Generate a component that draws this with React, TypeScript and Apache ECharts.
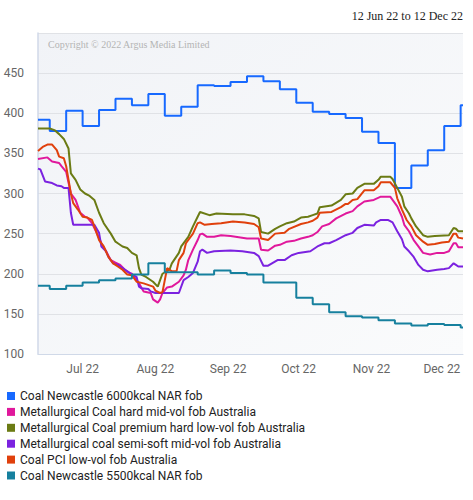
import React, { useEffect, useRef } from "react";
import * as echarts from "echarts";

const seriesNames = [
  "Coal Newcastle 6000kcal NAR fob",
  "Metallurgical Coal hard mid-vol fob Australia",
  "Metallurgical Coal premium hard low-vol fob Australia",
  "Metallurgical coal semi-soft mid-vol fob Australia",
  "Coal PCI low-vol fob Australia",
  "Coal Newcastle 5500kcal NAR fob",
];
const seriesColors = ["#1769ff", "#e0189c", "#6b7b14", "#7b22e0", "#e0400c", "#16809e"];

const weeklyDates = [
  "2022-06-12", "2022-06-17", "2022-06-24", "2022-07-01", "2022-07-08", "2022-07-15", "2022-07-22",
  "2022-07-29", "2022-08-05", "2022-08-12", "2022-08-19", "2022-08-26", "2022-09-02", "2022-09-09",
  "2022-09-16", "2022-09-23", "2022-09-30", "2022-10-07", "2022-10-14", "2022-10-21", "2022-10-28",
  "2022-11-04", "2022-11-11", "2022-11-18", "2022-11-25", "2022-12-02", "2022-12-09", "2022-12-10",
];
const newcastle6000 = [392, 378, 403, 384, 404, 418, 410, 424, 397, 408, 435, 434, 439, 446, 440, 430, 413, 402, 399, 394, 377, 363, 307, 335, 354, 384, 410, 410];
const newcastle5500 = [185, 181, 185, 189, 192, 194, 199, 213, 202, 202, 199, 204, 201, 199, 189, 189, 170, 162, 152, 147, 145.5, 142, 138, 135.5, 137.5, 136, 133, 133];

const hardMidVol: [string, number][] = [
  ["2022-06-12", 343], ["2022-06-16", 345], ["2022-06-18", 340], ["2022-06-21", 338], ["2022-06-22", 334],
  ["2022-06-24", 327], ["2022-06-26", 300], ["2022-06-28", 292], ["2022-06-30", 276], ["2022-07-02", 271],
  ["2022-07-03", 270], ["2022-07-05", 263], ["2022-07-07", 251], ["2022-07-09", 238], ["2022-07-11", 228],
  ["2022-07-13", 217], ["2022-07-15", 214], ["2022-07-17", 211], ["2022-07-19", 205], ["2022-07-21", 201],
  ["2022-07-22", 200], ["2022-07-24", 192], ["2022-07-25", 188], ["2022-07-27", 178], ["2022-07-30", 176],
  ["2022-07-31", 168], ["2022-08-02", 164], ["2022-08-03", 168], ["2022-08-04", 176], ["2022-08-06", 183],
  ["2022-08-08", 184], ["2022-08-11", 190], ["2022-08-13", 198], ["2022-08-14", 205], ["2022-08-15", 217],
  ["2022-08-17", 230], ["2022-08-19", 242], ["2022-08-20", 249], ["2022-08-21", 250], ["2022-08-23", 246],
  ["2022-08-26", 246], ["2022-08-29", 248], ["2022-09-02", 247], ["2022-09-09", 244], ["2022-09-14", 244],
  ["2022-09-15", 230], ["2022-09-18", 229], ["2022-09-21", 235], ["2022-09-23", 236], ["2022-09-26", 240],
  ["2022-09-29", 241], ["2022-10-02", 244], ["2022-10-05", 246], ["2022-10-07", 248], ["2022-10-09", 252],
  ["2022-10-11", 259], ["2022-10-14", 262], ["2022-10-17", 269], ["2022-10-21", 275], ["2022-10-24", 278],
  ["2022-10-26", 284], ["2022-10-29", 290], ["2022-11-02", 292], ["2022-11-05", 296], ["2022-11-09", 296],
  ["2022-11-10", 292], ["2022-11-12", 284], ["2022-11-14", 271], ["2022-11-15", 261], ["2022-11-17", 253],
  ["2022-11-19", 242], ["2022-11-21", 234], ["2022-11-23", 226], ["2022-11-26", 224], ["2022-11-29", 226],
  ["2022-12-02", 226], ["2022-12-04", 228], ["2022-12-06", 238], ["2022-12-07", 238], ["2022-12-08", 233],
  ["2022-12-10", 233],
];

const premiumHardLowVol: [string, number][] = [
  ["2022-06-12", 381], ["2022-06-17", 381], ["2022-06-19", 379], ["2022-06-21", 374], ["2022-06-23", 368],
  ["2022-06-25", 356], ["2022-06-26", 325], ["2022-06-28", 317], ["2022-06-30", 305], ["2022-07-02", 300],
  ["2022-07-04", 297], ["2022-07-06", 292], ["2022-07-08", 276], ["2022-07-10", 263], ["2022-07-13", 250],
  ["2022-07-15", 240], ["2022-07-16", 238], ["2022-07-18", 234], ["2022-07-20", 232], ["2022-07-22", 226],
  ["2022-07-24", 223], ["2022-07-25", 207], ["2022-07-26", 199], ["2022-07-28", 196], ["2022-07-31", 190],
  ["2022-08-02", 184], ["2022-08-03", 192], ["2022-08-04", 200], ["2022-08-07", 205], ["2022-08-08", 213],
  ["2022-08-11", 226], ["2022-08-12", 234], ["2022-08-15", 246], ["2022-08-17", 259], ["2022-08-19", 271],
  ["2022-08-20", 277], ["2022-08-24", 273], ["2022-08-27", 275], ["2022-09-03", 274], ["2022-09-08", 274],
  ["2022-09-12", 272], ["2022-09-14", 269], ["2022-09-15", 252], ["2022-09-18", 250], ["2022-09-21", 256],
  ["2022-09-23", 259], ["2022-09-26", 263], ["2022-09-29", 265], ["2022-10-02", 270], ["2022-10-05", 271],
  ["2022-10-07", 273], ["2022-10-09", 275], ["2022-10-10", 283], ["2022-10-15", 285], ["2022-10-19", 292],
  ["2022-10-21", 299], ["2022-10-24", 300], ["2022-10-26", 307], ["2022-10-29", 312], ["2022-11-02", 312],
  ["2022-11-04", 317], ["2022-11-05", 321], ["2022-11-09", 321], ["2022-11-10", 318], ["2022-11-12", 307],
  ["2022-11-14", 296], ["2022-11-15", 284], ["2022-11-17", 275], ["2022-11-18", 269], ["2022-11-20", 259],
  ["2022-11-23", 248], ["2022-11-25", 246], ["2022-11-28", 247], ["2022-12-04", 248], ["2022-12-06", 257],
  ["2022-12-07", 256], ["2022-12-08", 253], ["2022-12-10", 253],
];

const semiSoftMidVol: [string, number][] = [
  ["2022-06-12", 331], ["2022-06-13", 330], ["2022-06-15", 315], ["2022-06-18", 313], ["2022-06-20", 310],
  ["2022-06-22", 309], ["2022-06-23", 307], ["2022-06-25", 307], ["2022-06-26", 276], ["2022-06-27", 261],
  ["2022-07-06", 261], ["2022-07-08", 251], ["2022-07-09", 234], ["2022-07-11", 228], ["2022-07-12", 221],
  ["2022-07-14", 213], ["2022-07-16", 211], ["2022-07-18", 207], ["2022-07-20", 203], ["2022-07-22", 199],
  ["2022-07-24", 196], ["2022-07-25", 184], ["2022-07-26", 182], ["2022-07-29", 181], ["2022-07-30", 178],
  ["2022-08-01", 176], ["2022-08-11", 176], ["2022-08-13", 192], ["2022-08-15", 196], ["2022-08-17", 201],
  ["2022-08-19", 215], ["2022-08-20", 228], ["2022-08-21", 230], ["2022-08-23", 226], ["2022-08-26", 228],
  ["2022-09-02", 229], ["2022-09-07", 228], ["2022-09-12", 226], ["2022-09-14", 222], ["2022-09-16", 210],
  ["2022-09-18", 210], ["2022-09-22", 217], ["2022-09-25", 217], ["2022-09-28", 223], ["2022-10-01", 226],
  ["2022-10-06", 228], ["2022-10-09", 234], ["2022-10-12", 238], ["2022-10-14", 238], ["2022-10-17", 242],
  ["2022-10-21", 248], ["2022-10-23", 250], ["2022-10-24", 251], ["2022-10-26", 257], ["2022-10-29", 261],
  ["2022-11-02", 260], ["2022-11-03", 264], ["2022-11-05", 267], ["2022-11-08", 267], ["2022-11-10", 264],
  ["2022-11-12", 253], ["2022-11-14", 243], ["2022-11-15", 234], ["2022-11-17", 228], ["2022-11-19", 221],
  ["2022-11-21", 211], ["2022-11-23", 205], ["2022-11-25", 203], ["2022-11-29", 205], ["2022-12-02", 206],
  ["2022-12-04", 207], ["2022-12-06", 213], ["2022-12-07", 211], ["2022-12-08", 209], ["2022-12-10", 209],
];

const pciLowVol: [string, number][] = [
  ["2022-06-12", 353], ["2022-06-14", 358], ["2022-06-16", 361], ["2022-06-18", 361], ["2022-06-20", 354],
  ["2022-06-21", 346], ["2022-06-23", 344], ["2022-06-24", 334], ["2022-06-26", 300], ["2022-06-27", 288],
  ["2022-06-29", 280], ["2022-07-01", 271], ["2022-07-03", 270], ["2022-07-05", 267], ["2022-07-06", 259],
  ["2022-07-08", 242], ["2022-07-10", 234], ["2022-07-12", 221], ["2022-07-14", 213], ["2022-07-15", 211],
  ["2022-07-16", 209], ["2022-07-18", 205], ["2022-07-20", 199], ["2022-07-22", 198], ["2022-07-24", 190],
  ["2022-07-27", 188], ["2022-07-31", 184], ["2022-08-01", 179], ["2022-08-03", 176], ["2022-08-04", 177],
  ["2022-08-05", 192], ["2022-08-06", 207], ["2022-08-08", 203], ["2022-08-10", 203], ["2022-08-11", 217],
  ["2022-08-13", 226], ["2022-08-14", 238], ["2022-08-17", 250], ["2022-08-19", 263], ["2022-08-20", 264],
  ["2022-08-22", 261], ["2022-08-25", 262], ["2022-08-29", 263], ["2022-09-03", 265], ["2022-09-08", 264],
  ["2022-09-12", 262], ["2022-09-14", 258], ["2022-09-15", 244], ["2022-09-18", 242], ["2022-09-21", 250],
  ["2022-09-25", 251], ["2022-09-27", 256], ["2022-10-02", 262], ["2022-10-05", 264], ["2022-10-07", 266],
  ["2022-10-09", 270], ["2022-10-10", 276], ["2022-10-15", 277], ["2022-10-19", 283], ["2022-10-21", 287],
  ["2022-10-22", 287], ["2022-10-24", 292], ["2022-10-26", 293], ["2022-10-29", 304], ["2022-11-02", 304],
  ["2022-11-04", 309], ["2022-11-05", 314], ["2022-11-09", 314], ["2022-11-11", 307], ["2022-11-12", 294],
  ["2022-11-14", 280], ["2022-11-16", 267], ["2022-11-18", 259], ["2022-11-20", 248], ["2022-11-23", 240],
  ["2022-11-25", 236], ["2022-11-28", 237], ["2022-12-01", 239], ["2022-12-04", 240], ["2022-12-06", 250],
  ["2022-12-07", 250], ["2022-12-08", 245], ["2022-12-10", 244],
];

const yTicks = { min: 100, max: 500, interval: 50 };
const xRange = { min: "2022-06-12", max: "2022-12-10" };
const monthNames = ["Jan", "Feb", "Mar", "Apr", "May", "Jun", "Jul", "Aug", "Sep", "Oct", "Nov", "Dec"];
const titleText = "12 Jun 22 to 12 Dec 22";
const copyrightText = "Copyright © 2022 Argus Media Limited";

export default function App() {
  const ref = useRef<HTMLDivElement>(null);
  useEffect(() => {
    document.body.style.margin = "0";
    if (!ref.current) return;
    const chart = echarts.init(ref.current, null, { renderer: "svg" });
    const weekly = (vals: number[]) => weeklyDates.map((d, i) => [d, vals[i]]);
    const dataSets: any[] = [
      { data: weekly(newcastle6000), step: "end" },
      { data: hardMidVol },
      { data: premiumHardLowVol },
      { data: semiSoftMidVol },
      { data: pciLowVol },
      { data: weekly(newcastle5500), step: "end" },
    ];
    chart.setOption({
      animation: false,
      backgroundColor: "#ffffff",
      color: seriesColors,
      textStyle: { fontFamily: "Roboto" },
      grid: {
        left: 38,
        right: 10,
        top: 33,
        bottom: 146,
        show: true,
        borderWidth: 0,
        backgroundColor: new echarts.graphic.LinearGradient(0, 0, 1, 1, [
          { offset: 0, color: "#f1f3f7" },
          { offset: 1, color: "#fafbfc" },
        ]),
      },
      graphic: [
        {
          type: "text",
          right: 10,
          top: 10,
          style: { text: titleText, fill: "#222222", font: '12px "Liberation Serif"' },
        },
        {
          type: "text",
          left: 48,
          top: 39,
          z: 0,
          style: { text: copyrightText, fill: "#b4b4b4", font: '10px "Liberation Serif"' },
        },
        {
          type: "line",
          shape: { x1: 38, y1: 33.5, x2: 463, y2: 33.5 },
          style: { stroke: "#d6dde9", lineWidth: 1 },
        },
      ],
      legend: {
        orient: "vertical",
        left: 7,
        top: 389,
        padding: 0,
        icon: "rect",
        itemWidth: 8,
        itemHeight: 8,
        itemGap: 1.9,
        data: seriesNames,
        textStyle: { fontSize: 12, color: "#222222", fontFamily: "Roboto", lineHeight: 14 },
      },
      xAxis: {
        type: "time",
        min: xRange.min,
        max: xRange.max,
        splitNumber: 7,
        axisLine: { show: true, lineStyle: { color: "#d0d9e8", width: 1 } },
        axisTick: { show: false },
        splitLine: { show: false },
        axisLabel: {
          color: "#666666",
          fontSize: 12,
          margin: 9,
          hideOverlap: false,
          formatter: (v: number) => {
            const d = new Date(v);
            if (d.getDate() !== 1) return "";
            return `${monthNames[d.getMonth()]} ${String(d.getFullYear()).slice(2)}`;
          },
        },
      },
      yAxis: {
        type: "value",
        min: yTicks.min,
        max: yTicks.max,
        interval: yTicks.interval,
        axisLine: { show: true, lineStyle: { color: "#d0d9e8", width: 1.5 } },
        axisTick: { show: false },
        splitLine: { show: true, lineStyle: { color: "#e0e2e6", width: 1 } },
        axisLabel: { color: "#666666", fontSize: 12, margin: 14, showMaxLabel: false },
      },
      series: seriesNames.map((name, i) => ({
        name,
        type: "line",
        showSymbol: false,
        symbol: "none",
        lineStyle: { width: 2, color: seriesColors[i] },
        itemStyle: { color: seriesColors[i] },
        ...dataSets[i],
      })),
    });
    return () => chart.dispose();
  }, []);
  return <div ref={ref} style={{ width: 473, height: 500 }} />;
}
